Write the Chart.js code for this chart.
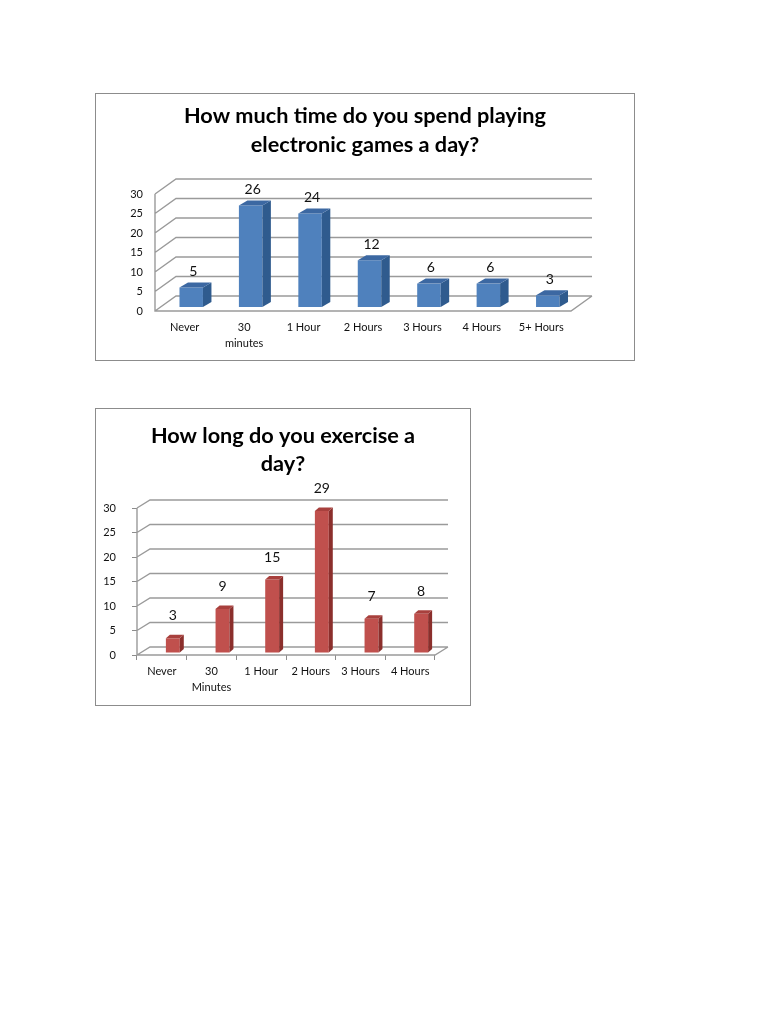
<!DOCTYPE html>
<html>
<head>
<meta charset="utf-8">
<script src="https://cdn.jsdelivr.net/npm/chart.js@4"></script>
<style>
  body { margin: 0; background: #fff; }
  .box { position: absolute; border: 1px solid #8c8c8c; background: #fff; }
  #box1 { left: 95px; top: 93px; width: 538px; height: 266px; }
  #box2 { left: 95px; top: 408px; width: 374px; height: 296px; }
</style>
</head>
<body>
<div class="box" id="box1"><canvas id="gamesChart" width="538" height="266"></canvas></div>
<div class="box" id="box2"><canvas id="exerciseChart" width="374" height="296"></canvas></div>
<script>
// data
const gameLabels = ['Never', ['30', 'minutes'], '1 Hour', '2 Hours', '3 Hours', '4 Hours', '5+ Hours'];
const gameValues = [5, 26, 24, 12, 6, 6, 3];
const exerciseLabels = ['Never', ['30', 'Minutes'], '1 Hour', '2 Hours', '3 Hours', '4 Hours'];
const exerciseValues = [3, 9, 15, 29, 7, 8];
const yMax = 30;
const yStep = 5;

// fake 3D walls + bar sides, drawn from the chart's own scales
const pseudo3d = {
  id: 'pseudo3d',
  beforeDatasetsDraw(chart, args, o) {
    const ctx = chart.ctx;
    const a = chart.chartArea;
    const y = chart.scales.y;
    ctx.save();
    ctx.strokeStyle = '#9a9a9a';
    ctx.lineWidth = 1.4;
    ctx.beginPath();
    y.ticks.forEach(t => {
      const py = y.getPixelForValue(t.value);
      ctx.moveTo(a.left, py);
      ctx.lineTo(a.left + o.dx, py + o.dy);
      ctx.lineTo(a.right + o.dx, py + o.dy);
    });
    ctx.moveTo(a.left, y.getPixelForValue(yMax));
    ctx.lineTo(a.left, a.bottom);
    ctx.lineTo(a.right, a.bottom);
    ctx.lineTo(a.right + o.dx, a.bottom + o.dy);
    ctx.stroke();
    ctx.restore();
    ctx.save();
    ctx.translate(o.shiftX, o.shiftY);
  },
  afterDatasetsDraw(chart, args, o) {
    const ctx = chart.ctx;
    const values = chart.data.datasets[0].data;
    chart.getDatasetMeta(0).data.forEach((bar, i) => {
      const {x, y, width, base} = bar.getProps(['x', 'y', 'width', 'base'], true);
      const l = x - width / 2, r = x + width / 2;
      ctx.fillStyle = o.sideColor;
      ctx.beginPath();
      ctx.moveTo(r, y); ctx.lineTo(r + o.bx, y + o.by);
      ctx.lineTo(r + o.bx, base + o.by); ctx.lineTo(r, base);
      ctx.closePath(); ctx.fill();
      ctx.fillStyle = o.topColor;
      ctx.beginPath();
      ctx.moveTo(l, y); ctx.lineTo(l + o.bx, y + o.by);
      ctx.lineTo(r + o.bx, y + o.by); ctx.lineTo(r, y);
      ctx.closePath(); ctx.fill();
      ctx.fillStyle = '#111';
      ctx.font = '14px Lato';
      ctx.textAlign = 'center';
      ctx.textBaseline = 'middle';
      ctx.fillText(values[i], x + o.labelDx, y + o.by - o.labelGap);
    });
    ctx.restore();
  }
};

function makeChart(id, labels, values, s) {
  return new Chart(document.getElementById(id), {
    type: 'bar',
    data: {
      labels: labels,
      datasets: [{
        data: values,
        backgroundColor: s.front,
        barPercentage: s.barPct,
        categoryPercentage: 1,
        clip: false
      }]
    },
    options: {
      responsive: false,
      animation: false,
      layout: { padding: 0 },
      plugins: {
        legend: { display: false },
        tooltip: { enabled: false },
        title: {
          display: true,
          text: s.title,
          color: '#000',
          font: { family: 'Lato', size: 21.7, weight: 'bold', lineHeight: s.titleLH },
          padding: { top: s.titleTop, bottom: s.titleBottom }
        },
        pseudo3d: s.p3d
      },
      scales: {
        x: {
          afterFit: sc => { sc.height = s.xHeight; },
          border: { display: false },
          grid: { display: s.ticks, drawOnChartArea: false, drawTicks: s.ticks, tickLength: 5, color: '#8c8c8c' },
          ticks: { color: '#111', padding: s.xPad, maxRotation: 0, font: { family: 'Lato', size: 11, lineHeight: 16 / 11 } }
        },
        y: {
          min: 0, max: yMax,
          afterFit: sc => { sc.width = s.yWidth; },
          border: { display: false },
          grid: { display: s.ticks, drawOnChartArea: false, drawTicks: s.ticks, tickLength: 5, color: '#8c8c8c' },
          ticks: { stepSize: yStep, color: '#111', padding: s.yPad, font: { family: 'Lato', size: 11 } }
        },
        // empty right axis: keeps room for the back wall without shifting the title
        yRight: {
          position: 'right',
          afterFit: sc => { sc.width = s.padRight; },
          border: { display: false },
          grid: { display: false },
          ticks: { display: false }
        }
      }
    },
    plugins: [pseudo3d]
  });
}

makeChart('gamesChart', gameLabels, gameValues, {
  title: ['How much time do you spend playing', 'electronic games a day?'],
  titleLH: 29 / 21.7, titleTop: 7.5, titleBottom: 34.5,
  front: '#4f81bd', barPct: 0.395,
  padRight: 63, xHeight: 49, yWidth: 59, xPad: 8, yPad: 12, ticks: false,
  p3d: { dx: 21, dy: -15, shiftX: 6.5, shiftY: -4, bx: 8.5, by: -5,
         sideColor: '#2f5b8e', topColor: '#3c68a2', labelDx: 2, labelGap: 11 }
});

makeChart('exerciseChart', exerciseLabels, exerciseValues, {
  title: ['How long do you exercise a', 'day?'],
  titleLH: 28 / 21.7, titleTop: 13, titleBottom: 30,
  front: '#c0504d', barPct: 0.28,
  padRight: 35, xHeight: 50, yWidth: 41, xPad: 3, yPad: 16, ticks: true,
  p3d: { dx: 13, dy: -8, shiftX: 11, shiftY: -2, bx: 4, by: -3.5,
         sideColor: '#8b2f2c', topColor: '#a8403d', labelDx: 0, labelGap: 19 }
});
</script>
</body>
</html>
